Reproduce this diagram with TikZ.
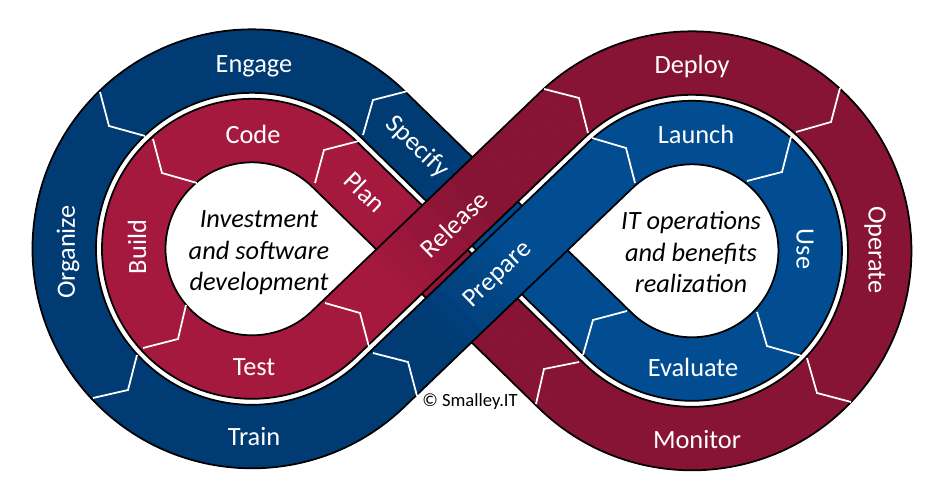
\documentclass[tikz,border=0pt]{standalone}
\usepackage{fontspec}
\setmainfont{Carlito}
\usetikzlibrary{calc}
\definecolor{navyband}{HTML}{003B73}
\definecolor{blueband}{HTML}{024D92}
\definecolor{crimsonband}{HTML}{A6193F}
\definecolor{wineband}{HTML}{871434}
% a strip cut in slices, #1 to #2 in the colour, between the sides (#3)-(#4) and (#5)-(#6)
\newcommand{\stripfade}[6]{
  \foreach \t [evaluate=\t as \u using \t+5,
               evaluate=\t as \m using {min(100,max(0,(\t-20)*2.5))}] in {0,5,...,95} {
    \path[fill=#2!\m!#1,draw=#2!\m!#1,line width=0.3pt]
      ($(#3)!\t/100!(#4)$) -- ($(#3)!\u/100!(#4)$) -- ($(#5)!\u/100!(#6)$) -- ($(#5)!\t/100!(#6)$) -- cycle;
  }
}
\begin{document}
\begin{tikzpicture}[x=0.02cm,y=0.02cm]
    \useasboundingbox (0,0) rectangle (950,500);
    \tikzstyle{every node}=[text=white,font=\fontsize{15}{18}\selectfont,inner sep=0pt]
    \tikzstyle{rim}=[draw=black,line width=1pt,line cap=round]
    \tikzstyle{chevron}=[draw=white,line width=1pt]
    \tikzstyle{aim}=[align=center,text=black,font=\fontsize{15}{17.9}\selectfont\itshape]

    \begin{scope}[rotate around={-0.26:(472,250.2)}]
      \foreach \i/\r in {1/219.5,2/156,3/150,4/86.5} {
        \path (252,250.2) ++(46:\r) coordinate (lu\i);
        \path (252,250.2) ++(-46:\r) coordinate (ll\i);
        \path (692,250.2) ++(134:\r) coordinate (ru\i);
        \path (692,250.2) ++(226:\r) coordinate (rl\i);
      }

      % strips going down to the right lie underneath
      \stripfade{navyband}{blueband}{lu1}{rl4}{lu2}{rl3}
      \stripfade{crimsonband}{wineband}{lu3}{rl2}{lu4}{rl1}
      \draw[rim] (lu1) -- (rl4);
      \draw[rim] (lu2) -- (rl3);
      \draw[rim] (lu3) -- (rl2);
      \draw[rim] (lu4) -- (rl1);

      % strips going up to the right
      \stripfade{navyband}{blueband}{ll1}{ru4}{ll2}{ru3}
      \stripfade{crimsonband}{wineband}{ll3}{ru2}{ll4}{ru1}
      \draw[rim] (ll1) -- (ru4);
      \draw[rim] (ll2) -- (ru3);
      \draw[rim] (ll3) -- (ru2);
      \draw[rim] (ll4) -- (ru1);

      % the four rings
      \path[fill=navyband,draw=navyband,line width=0.3pt] (lu1) arc[start angle=46,end angle=314,radius=219.5]
        -- (ll2) arc[start angle=314,end angle=46,radius=156] -- cycle;
      \path[fill=crimsonband,draw=crimsonband,line width=0.3pt] (lu3) arc[start angle=46,end angle=314,radius=150]
        -- (ll4) arc[start angle=314,end angle=46,radius=86.5] -- cycle;
      \path[fill=wineband,draw=wineband,line width=0.3pt] (ru1) arc[start angle=134,end angle=-134,radius=219.5]
        -- (rl2) arc[start angle=-134,end angle=134,radius=156] -- cycle;
      \path[fill=blueband,draw=blueband,line width=0.3pt] (ru3) arc[start angle=134,end angle=-134,radius=150]
        -- (rl4) arc[start angle=-134,end angle=134,radius=86.5] -- cycle;

      \draw[rim] (lu1) arc[start angle=46,end angle=314,radius=219.5];
      \draw[rim] (lu2) arc[start angle=46,end angle=314,radius=156];
      \draw[rim] (lu3) arc[start angle=46,end angle=314,radius=150];
      \draw[rim] (lu4) arc[start angle=46,end angle=314,radius=86.5];
      \draw[rim] (ru1) arc[start angle=134,end angle=-134,radius=219.5];
      \draw[rim] (ru2) arc[start angle=134,end angle=-134,radius=156];
      \draw[rim] (ru3) arc[start angle=134,end angle=-134,radius=150];
      \draw[rim] (ru4) arc[start angle=134,end angle=-134,radius=86.5];
    \end{scope}

    \foreach \pa/\pb/\pc in {
        {100,408}/{109,374}/{145,364}, {408,409}/{373,400}/{363,365},
        {153,361}/{162,327}/{197,317}, {359,359}/{324,350}/{315,317},
        {137,145}/{128,110}/{93,102},  {186,195}/{178,161}/{143,152},
        {325,197}/{360,187}/{369,153}, {373,147}/{408,138}/{417,104},
        {544,411}/{579,402}/{588,367}, {592,362}/{626,352}/{635,317},
        {747,319}/{782,328}/{791,363}, {796,368}/{831,378}/{840,412},
        {627,189}/{593,180}/{583,145}, {579,138}/{544,131}/{536,96},
        {757,188}/{767,154}/{802,144}, {807,142}/{817,107}/{851,98}} {
      \draw[chevron] (\pa) -- (\pb) -- (\pc);
    }

    \node[name=engage] at (254,434) {Engage};
    \node[name=specify,rotate=-44] at (417,353) {Specify};
    \node[name=organize,rotate=90] at (68,248) {Organize};
    \node[name=train] at (254,63) {Train};
    \node[name=code] at (253,366) {Code};
    \node[name=plan,rotate=-44] at (365,308) {Plan};
    \node[name=build,rotate=90] at (137,253) {Build};
    \node[name=test] at (254,133) {Test};
    \node[name=release,rotate=44] at (454,276) {Release};
    \node[name=prepare,rotate=44] at (498,225) {Prepare};
    \node[name=deploy] at (692,434) {Deploy};
    \node[name=operate,rotate=-90] at (875,250) {Operate};
    \node[name=monitor] at (697,60) {Monitor};
    \node[name=launch] at (696,366) {Launch};
    \node[name=use,rotate=-90] at (805,251) {Use};
    \node[name=evaluate] at (693,133) {Evaluate};
    \node[name=invest,aim] at (259,247) {Investment\\and software\\development};
    \node[name=operations,aim] at (691,248) {IT operations\\and benefits\\realization};
    \node[name=mark,text=black,font=\fontsize{10.6}{12}\selectfont] at (470,98) {© Smalley.IT};
  \end{tikzpicture}
\end{document}
